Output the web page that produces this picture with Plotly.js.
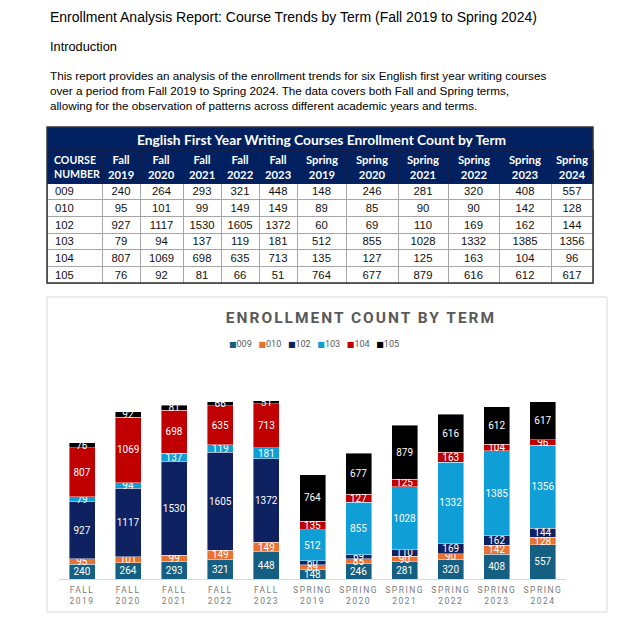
<!DOCTYPE html>
<html><head><meta charset="utf-8">
<script src="https://cdn.plot.ly/plotly-3.0.1.min.js"></script>
<style>
html,body{margin:0;padding:0;background:#fff;}
#chart{width:621px;height:621px;}
.gtitle{letter-spacing:2px;}
.xtick text{letter-spacing:1.5px;}
text.cell-text{transform:translateY(-4px);}
</style></head><body><div id="chart"></div>
<script>
const terms = ['Fall 2019','Fall 2020','Fall 2021','Fall 2022','Fall 2023','Spring 2019','Spring 2020','Spring 2021','Spring 2022','Spring 2023','Spring 2024'];
const courses = ['009','010','102','103','104','105'];
const c009 = [240,264,293,321,448,148,246,281,320,408,557];
const c010 = [95,101,99,149,149,89,85,90,90,142,128];
const c102 = [927,1117,1530,1605,1372,60,69,110,169,162,144];
const c103 = [79,94,137,119,181,512,855,1028,1332,1385,1356];
const c104 = [807,1069,698,635,713,135,127,125,163,104,96];
const c105 = [76,92,81,66,51,764,677,879,616,612,617];
const series = [c009,c010,c102,c103,c104,c105];
const colors = ['#156082','#E97132','#0E2160','#0F9ED5','#C00000','#000000'];
const reportTitle = 'Enrollment Analysis Report: Course Trends by Term (Fall 2019 to Spring 2024)';
const introHeading = 'Introduction';
const introLines = [
 'This report provides an analysis of the enrollment trends for six English first year writing courses',
 'over a period from Fall 2019 to Spring 2024. The data covers both Fall and Spring terms,',
 'allowing for the observation of patterns across different academic years and terms.'
];
const tableTitle = 'English First Year Writing Courses Enrollment Count by Term';
const firstHeader = 'COURSE<br>NUMBER';
const chartTitle = 'ENROLLMENT COUNT BY TERM';
const colWidths = [55,38,43,38,38,38,49,52,50,51,52,42];

const W = 621, H = 621;
const px = x => x / W;
const py = y => 1 - y / H;
const TL = 47, TR = 593, TTOP = 127, HTOP = 150, HBOT = 183, TBOT = 283;

const traces = [];
// table (header text placed as annotations below)
const cellVals = [courses].concat(terms.map((t, j) => series.map(s => s[j])));
traces.push({
  type: 'table',
  domain: {x: [px(TL), px(TR)], y: [py(TBOT + 6), py(HTOP)]},
  columnwidth: colWidths,
  header: {
    values: colWidths.map(() => ''),
    fill: {color: '#002060'},
    font: {family: 'Lato, sans-serif', size: 11.5, color: '#ffffff'},
    line: {color: '#14204a', width: 1},
    height: HBOT - HTOP
  },
  cells: {
    values: cellVals,
    align: ['left'].concat(terms.map(() => 'center')),
    fill: {color: '#ffffff'},
    font: {family: 'Liberation Sans, Arial, sans-serif', size: 11.3, color: '#111111'},
    line: {color: '#a6a6a6', width: 1},
    height: (TBOT - HBOT) / 6
  }
});
// bars
series.forEach((s, i) => {
  traces.push({
    type: 'bar', name: courses[i], x: terms, y: s,
    marker: {color: colors[i], line: {color: 'rgba(255,255,255,0.7)', width: 0.6}},
    text: s.map(String), textposition: 'inside', insidetextanchor: 'middle',
    textangle: 0, constraintext: 'none',
    textfont: {family: 'Roboto, sans-serif', size: 10, color: '#ffffff'},
    hoverinfo: 'skip', xaxis: 'x', yaxis: 'y'
  });
});

const legendText = courses.map((c, i) =>
  '<span style="color:' + colors[i] + ';font-size:8px">■</span><span style="color:#595959">' + c + '</span>').join('   ');

// header labels positioned from the column widths
const totalW = colWidths.reduce((a, b) => a + b, 0);
const headerLabels = [firstHeader].concat(terms.map(t => t.replace(' ', '<br>')));
const headerAnn = [];
let cum = 0;
colWidths.forEach((w, i) => {
  const left = TL + (TR - TL) * cum / totalW;
  const center = TL + (TR - TL) * (cum + w / 2) / totalW;
  cum += w;
  headerAnn.push({text: '<b>' + headerLabels[i] + '</b>', x: px(i === 0 ? left + 5 : center), xanchor: i === 0 ? 'left' : 'center',
    align: i === 0 ? 'left' : 'center', y: py((HTOP + HBOT) / 2 + 1),
    font: {family: 'Lato, Noto Sans, sans-serif', size: i === 0 ? 10.6 : 11.3, color: '#fff'}});
});

const annotations = [
  {text: reportTitle, x: px(48), y: py(17), font: {family: 'Liberation Sans, Arial', size: 14, color: '#000'}},
  {text: introHeading, x: px(48), y: py(46), font: {family: 'Liberation Sans, Arial', size: 12.8, color: '#000'}},
  {text: introLines[0], x: px(48), y: py(76), font: {family: 'Liberation Sans, Arial', size: 11.7, color: '#000'}},
  {text: introLines[1], x: px(48), y: py(91), font: {family: 'Liberation Sans, Arial', size: 11.7, color: '#000'}},
  {text: introLines[2], x: px(48), y: py(105.5), font: {family: 'Liberation Sans, Arial', size: 11.7, color: '#000'}},
  {text: '<b>' + tableTitle + '</b>', x: px(321), y: py(139), xanchor: 'center', font: {family: 'Lato, Noto Sans, sans-serif', size: 13.8, color: '#fff'}},
  {text: legendText, x: px(227), y: py(344), font: {family: 'Roboto, DejaVu Sans, sans-serif', size: 9, color: '#595959'}}
].concat(headerAnn).map(a => Object.assign({xref: 'paper', yref: 'paper', xanchor: 'left', yanchor: 'middle', showarrow: false}, a));

const layout = {
  width: W, height: H, margin: {l: 0, r: 0, t: 0, b: 0},
  paper_bgcolor: '#fff', plot_bgcolor: 'rgba(0,0,0,0)',
  showlegend: false, barmode: 'stack', bargap: 0.436,
  title: {text: '<b>' + chartTitle + '</b>', x: px(361), xanchor: 'center', xref: 'paper',
          y: py(318), yanchor: 'middle', yref: 'container',
          font: {family: 'Roboto, sans-serif', size: 15.5, color: '#595959'}},
  xaxis: {domain: [px(59), px(566)], anchor: 'y', type: 'category', showline: true, linecolor: '#d9d9d9', linewidth: 1,
          showgrid: false, zeroline: false, ticks: '', tickvals: terms, ticklabelstandoff: 3,
          ticktext: terms.map(t => t.toUpperCase().replace(' ', '<br>')),
          tickfont: {family: 'Roboto, sans-serif', size: 8.5, color: '#7a7a7a'}, fixedrange: true},
  yaxis: {domain: [py(579), py(360)], range: [0, 3581], visible: false, fixedrange: true},
  shapes: [
    {type: 'rect', xref: 'paper', yref: 'paper', x0: px(TL), x1: px(TR), y0: py(HTOP), y1: py(TTOP), fillcolor: '#002060', line: {width: 0}},
    {type: 'rect', xref: 'paper', yref: 'paper', x0: px(TL), x1: px(TR), y0: py(TBOT), y1: py(TTOP), line: {color: '#333', width: 1.5}, layer: 'above'},
    {type: 'rect', xref: 'paper', yref: 'paper', x0: px(47), x1: px(607), y0: py(612), y1: py(297), line: {color: '#d9d9d9', width: 1}}
  ],
  annotations: annotations
};
Plotly.newPlot('chart', traces, layout, {staticPlot: true, displayModeBar: false});
</script></body></html>
